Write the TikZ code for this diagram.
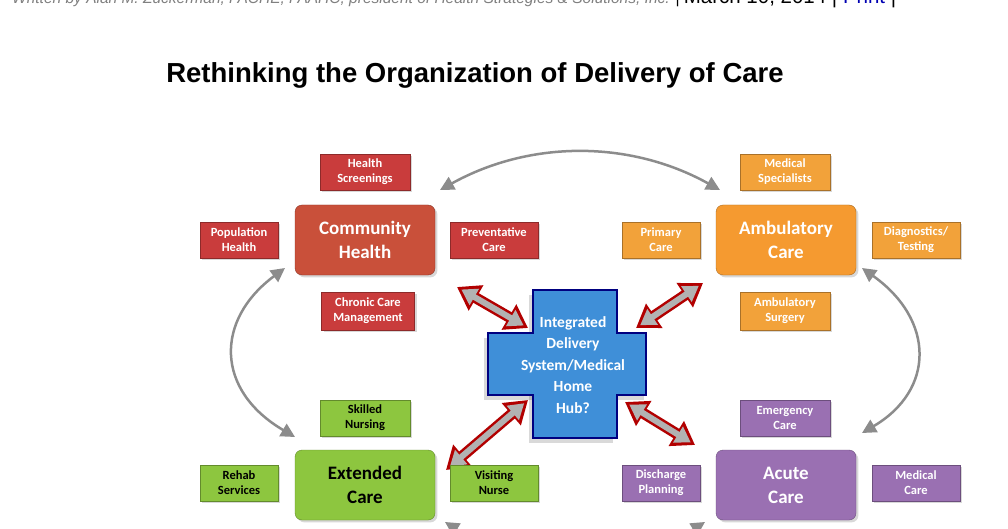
\documentclass[tikz,border=0pt]{standalone}
\usepackage{fontspec}
\setmainfont{Carlito}
\newfontfamily\arial{Liberation Sans}
\usetikzlibrary{arrows.meta,shadows}
\definecolor{cred}{HTML}{C9503A}
\definecolor{sred}{HTML}{C93C3C}
\definecolor{corange}{HTML}{F59A30}
\definecolor{sorange}{HTML}{F2A23A}
\definecolor{cgreen}{HTML}{8DC63F}
\definecolor{cpurple}{HTML}{9A70B2}
\definecolor{cblue}{HTML}{3F8FD8}
\definecolor{arrgray}{HTML}{8C8C8C}
\tikzset{
 big/.style={draw=#1!70!black, fill=#1, rounded corners=7pt, minimum width=140pt, minimum height=70pt, text=white, font=\bfseries\fontsize{19}{24}\selectfont, align=center, drop shadow={opacity=0.3}},
 small/.style={draw=#1!70!black, fill=#1, minimum width=88pt, minimum height=36pt, text=white, font=\bfseries\fontsize{12.5}{15}\selectfont, align=center, drop shadow={opacity=0.3}},
 smallg/.style={small=#1, text=black},
 side/.style={small=#1, minimum width=78pt},
 sideg/.style={side=#1, text=black},
 dbl/.style={draw=red!70!black, line width=11pt, {Triangle[length=22pt,width=28pt]}-{Triangle[length=22pt,width=28pt]}, postaction={draw=gray!60, line width=6pt, shorten <=5pt, shorten >=5pt,{Triangle[length=15pt,width=18pt]}-{Triangle[length=15pt,width=18pt]}}},
 curv/.style={draw=arrgray, line width=2.5pt, {Triangle[length=14pt,width=14pt]}-{Triangle[length=14pt,width=14pt]}}
}
\begin{document}
\begin{tikzpicture}[x=1pt,y=-1pt]
\useasboundingbox (0,0) rectangle (1008,529);
\clip (0,0) rectangle (1008,529);
\fill[white] (0,0) rectangle (1008,529);
\node[anchor=base west, inner sep=0] (hdr) at (12,4) {\arial\fontsize{15.5}{18}\selectfont\color{gray}\itshape Written by Alan M. Zuckerman, FACHE, FAAHC, president of Health Strategies \& Solutions, Inc. \upshape\color{black}| \fontsize{20.5}{24}\selectfont March 10, 2014 | \color{blue!70!black}Print \color{black}|};
\node (title) at (475,75) {\arial\bfseries\fontsize{27.5}{32}\selectfont Rethinking the Organization of Delivery of Care};
% curves
\coordinate (t1) at (440,190); \coordinate (t2) at (720,190);
\draw[curv] (t1) .. controls (530,140) and (630,140) .. (t2);
\coordinate (l1) at (285,268); \coordinate (l2) at (295,437);
\draw[curv] (l1) .. controls (215,320) and (215,390) .. (l2);
\coordinate (r1) at (862,268); \coordinate (r2) at (862,433);
\draw[curv] (r1) .. controls (935,320) and (935,390) .. (r2);
\coordinate (b1) at (445,522); \coordinate (b2) at (705,522);
\draw[curv] (b1) .. controls (520,570) and (630,570) .. (b2);
% cross
\node[fill=black, opacity=0.15, minimum width=84pt, minimum height=148pt, inner sep=0] (shv) at (571,369) {};
\node[fill=black, opacity=0.15, minimum width=160pt, minimum height=62pt, inner sep=0] (shh) at (564,369) {};
\draw[blue!50!black, fill=cblue, line width=1.5pt] (533,290) -- (617,290) -- (617,333) -- (646,333) -- (646,395) -- (617,395) -- (617,438) -- (533,438) -- (533,395) -- (488,395) -- (488,333) -- (533,333) -- cycle;
\node[text=white, font=\bfseries\fontsize{15.5}{21.5}\selectfont, align=center] (hub) at (573,365) {Integrated\\Delivery\\System/Medical\\Home\\Hub?};
% double arrows
\coordinate (a1) at (457,287); \coordinate (a2) at (528,328);
\coordinate (a3) at (703,283); \coordinate (a4) at (636,328);
\coordinate (a5) at (446,470); \coordinate (a6) at (528,400);
\coordinate (a7) at (695,445); \coordinate (a8) at (625,402);
\draw[dbl] (a1) -- (a2); \draw[dbl] (a3) -- (a4);
\draw[dbl] (a5) -- (a6); \draw[dbl] (a7) -- (a8);
% community
\node[big=cred] (ch) at (365,240) {Community\\Health};
\node[small=sred, minimum width=90pt] (hs) at (365,172) {Health\\Screenings};
\node[side=sred] (ph) at (239,240) {Population\\Health};
\node[small=sred] (pc) at (494,240) {Preventative\\Care};
\node[small=sred, minimum width=93pt, minimum height=38pt] (cc) at (368,311) {Chronic Care\\Management};
% ambulatory
\node[big=corange] (ac) at (786,240) {Ambulatory\\Care};
\node[small=sorange, minimum width=90pt] (ms) at (785,172) {Medical\\Specialists};
\node[side=sorange] (pr) at (661,240) {Primary\\Care};
\node[small=sorange] (dt) at (916,240) {Diagnostics/\\Testing};
\node[small=sorange, minimum width=90pt, minimum height=38pt] (as) at (785,311) {Ambulatory\\Surgery};
% extended
\node[big=cgreen, text=black] (ec) at (365,485) {Extended\\Care};
\node[smallg=cgreen, minimum width=90pt] (sn) at (365,418) {Skilled\\Nursing};
\node[sideg=cgreen] (rs) at (239,483) {Rehab\\Services};
\node[smallg=cgreen] (vn) at (494,483) {Visiting\\Nurse};
% acute
\node[big=cpurple] (acu) at (786,485) {Acute\\Care};
\node[small=cpurple, minimum width=90pt] (em) at (785,418) {Emergency\\Care};
\node[side=cpurple] (dp) at (661,483) {Discharge\\Planning};
\node[small=cpurple] (mc) at (916,483) {Medical\\Care};
\end{tikzpicture}
\end{document}
